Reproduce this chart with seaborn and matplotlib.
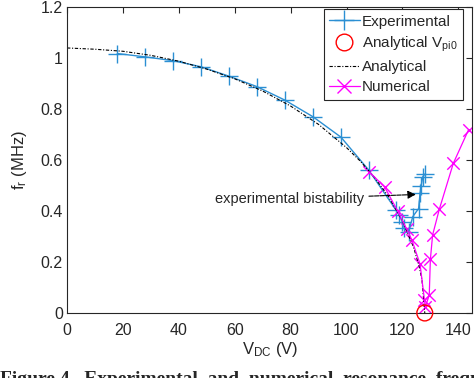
import matplotlib
matplotlib.use("Agg")
import matplotlib.pyplot as plt
from matplotlib.lines import Line2D
import seaborn as sns
import pandas as pd

# Experimental resonant frequency (MHz) vs DC voltage (V)
exp_v = [18, 28, 38, 48, 58, 68, 78, 88, 98, 108, 117.7, 118.9, 119.9, 120.7, 122.2,
         123.7, 125.8, 126.3, 126.7, 127.3, 128.0]
exp_f = [1.018, 1.005, 0.99, 0.966, 0.929, 0.888, 0.835, 0.77, 0.69, 0.56, 0.404, 0.384,
         0.358, 0.332, 0.319, 0.378, 0.41, 0.469, 0.50, 0.535, 0.545]

# Analytical pull-in voltage
vpi0_v = [128]
vpi0_f = [0.0]

# Analytical curve
ana_v = [0, 10, 20, 30, 40, 50, 60, 70, 80, 90, 100, 105, 110, 115, 120, 124, 126, 127, 128]
ana_f = [1.04, 1.035, 1.027, 1.011, 0.988, 0.957, 0.919, 0.871, 0.812, 0.74, 0.649,
         0.595, 0.532, 0.457, 0.362, 0.258, 0.183, 0.13, 0.0]

# Numerical simulation
num_v = [108, 113.6, 118.3, 121.5, 123.4, 126.3, 127.9, 128.2, 129.6, 130.0, 130.8,
         133.2, 138.2, 143.7]
num_f = [0.555, 0.495, 0.40, 0.33, 0.286, 0.192, 0.05, 0.025, 0.07, 0.21, 0.306,
         0.407, 0.587, 0.72]

sns.set_style("white")
plt.rcParams["font.family"] = ["Liberation Sans", "DejaVu Sans"]
plt.rcParams["mathtext.fontset"] = "custom"
plt.rcParams["mathtext.rm"] = "Liberation Sans"
plt.rcParams["mathtext.it"] = "Liberation Sans"

fig = plt.figure(figsize=(4.74, 3.78), dpi=100)
ax = fig.add_axes([0.1414, 0.172, 0.855, 0.809])

blue = "#2b8fd3"
magenta = "#ff00ff"
dashdot = (0, (3, 1.5, 1, 1.5))

df_exp = pd.DataFrame({"V": exp_v, "f": exp_f})
df_ana = pd.DataFrame({"V": ana_v, "f": ana_f})
df_num = pd.DataFrame({"V": num_v, "f": num_f})
df_pi = pd.DataFrame({"V": vpi0_v, "f": vpi0_f})

# lines
sns.lineplot(data=df_exp, x="V", y="f", sort=False, estimator=None, ax=ax,
             color=blue, lw=1.0, legend=False)
sns.lineplot(data=df_ana, x="V", y="f", sort=False, estimator=None, ax=ax,
             color="black", lw=0.8, linestyle=dashdot, legend=False)
sns.lineplot(data=df_num, x="V", y="f", sort=False, estimator=None, ax=ax,
             color=magenta, lw=0.9, legend=False)

# markers
sns.scatterplot(data=df_exp, x="V", y="f", ax=ax, marker="+", s=150, color=blue,
                linewidth=1.0, legend=False)
sns.scatterplot(data=df_num, x="V", y="f", ax=ax, marker="x", s=80, color=magenta,
                linewidth=1.0, legend=False)
sns.scatterplot(data=df_pi, x="V", y="f", ax=ax, marker="o", s=130, facecolors="none",
                edgecolor="red", linewidth=1.0, legend=False, zorder=5, clip_on=False)

ax.annotate("experimental bistability", xy=(124.8, 0.465), xytext=(53, 0.447),
            fontsize=10.5, ha="left", va="center",
            arrowprops=dict(arrowstyle="-|>", color="black", lw=0.8,
                            linestyle=(0, (4, 1)), shrinkA=1, shrinkB=0,
                            mutation_scale=12))

ax.set_xlim(0, 145)
ax.set_ylim(0, 1.2)
ax.set_xticks([0, 20, 40, 60, 80, 100, 120, 140])
ax.set_yticks([0, 0.2, 0.4, 0.6, 0.8, 1.0, 1.2])
ax.set_yticklabels(["0", "0.2", "0.4", "0.6", "0.8", "1", "1.2"])
ax.tick_params(direction="in", length=4, width=0.8, top=True, right=True,
               labelsize=11.5, colors="#262626", pad=3)
ax.tick_params(axis="x", pad=7)
for s in ax.spines.values():
    s.set_color("#262626")
    s.set_linewidth(0.8)

ax.set_xlabel(r"V$_{\rm DC}$ (V)", fontsize=12, color="#262626", labelpad=2)
ax.set_ylabel(r"f$_{\rm r}$ (MHz)", fontsize=12, color="#262626", labelpad=8)

handles = [
    Line2D([], [], color=blue, lw=1.0, marker="+", markersize=14, markeredgewidth=1.0),
    Line2D([], [], color="none", marker="o", markersize=12, markerfacecolor="none",
           markeredgecolor="red", markeredgewidth=1.0),
    Line2D([], [], color="black", lw=0.8, linestyle=dashdot),
    Line2D([], [], color=magenta, lw=0.9, marker="x", markersize=10, markeredgewidth=1.0),
]
labels = ["Experimental", r"Analytical V$_{\rm pi0}$", "Analytical", "Numerical"]
leg = ax.legend(handles, labels, loc="upper right", bbox_to_anchor=(0.977, 0.993),
                fontsize=11, frameon=True, fancybox=False, handlelength=2.0,
                handletextpad=0.15, borderpad=0.35, labelspacing=0.4, borderaxespad=0.0)
leg.get_frame().set_edgecolor("#262626")
leg.get_frame().set_linewidth(0.8)
leg.get_frame().set_alpha(1)

# figure caption, cut off at the bottom edge as in the source image
fig.text(0.0, 0.018, "Figure 4.  Experimental  and  numerical  resonance  frequency  of",
         family=["Liberation Serif", "DejaVu Serif"], fontweight="bold", fontsize=14,
         ha="left", va="top")

fig.savefig("out.png", dpi=100)
